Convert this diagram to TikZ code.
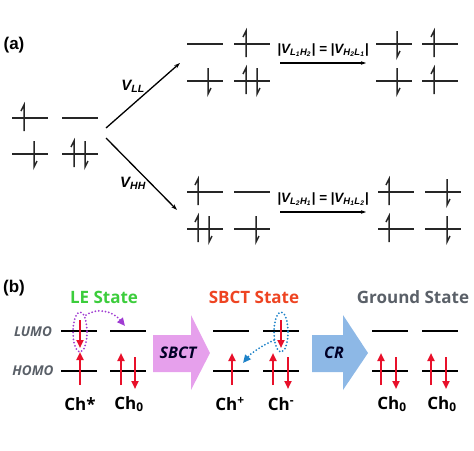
\documentclass[tikz,border=0pt]{standalone}
\usepackage{fontspec}
\setmainfont{Liberation Sans}
\newfontfamily\osans{Open Sans}
\usetikzlibrary{arrows.meta}

\definecolor{leGreen}{RGB}{60,205,60}
\definecolor{ctRed}{RGB}{238,68,34}
\definecolor{gsGray}{RGB}{90,96,104}
\definecolor{spinRed}{RGB}{232,16,42}
\definecolor{sbctPink}{RGB}{230,160,236}
\definecolor{crBlue}{RGB}{141,184,230}
\definecolor{dotPurple}{RGB}{160,60,210}
\definecolor{dotBlue}{RGB}{30,130,200}

\tikzset{
  lvl/.pic={\draw[line width=1.6pt,black!85] (-18,0) -- (18,0);},
  su/.pic={\draw[line width=1.5pt,black!85] (0,13) -- (0,-13) -- (-3,-7);},
  sd/.pic={\draw[line width=1.5pt,black!85] (0,-13) -- (0,13) -- (3,7);},
  blvl/.style={line width=2pt},
  rsp/.style={draw=spinRed,line width=2pt,-{Triangle[width=7pt,length=8pt]}},
  dotline/.style={line width=2pt,line cap=round,dash pattern=on 0pt off 3.4pt},
  vlab/.style={font=\bfseries\itshape\fontsize{15}{17}\selectfont},
  state/.style={font=\osans\bfseries\fontsize{17}{20}\selectfont},
  chlab/.style={font=\osans\bfseries\fontsize{17}{20}\selectfont},
  molab/.style={font=\osans\bfseries\itshape\fontsize{13.5}{16}\selectfont,text=gsGray},
}

\begin{document}
\begin{tikzpicture}[x=1pt,y=-1pt]
\useasboundingbox (0,0) rectangle (474,450);

% ---- (a) ----
\node[font=\bfseries\fontsize{17}{20}\selectfont] (labA) at (14,45) {(a)};

% starting configuration
\foreach \cx in {30,80} {
  \pic at (\cx,118) {lvl};
  \pic at (\cx,154) {lvl};
}
\pic at (24,118) {su};
\pic at (34,154) {sd};
\pic at (74,154) {su};
\pic at (85,154) {sd};

% upper branch
\foreach \cx in {205,252,394,440} {
  \pic at (\cx,44) {lvl};
  \pic at (\cx,81) {lvl};
}
\pic at (208,81) {sd};
\pic at (246,44) {su};
\pic at (246,81) {su};
\pic at (257,81) {sd};
\pic at (397,44) {sd};
\pic at (397,81) {sd};
\pic at (434,44) {su};
\pic at (434,81) {su};

% lower branch
\foreach \cx in {205,252,396,443} {
  \pic at (\cx,192) {lvl};
  \pic at (\cx,229) {lvl};
}
\pic at (198,192) {su};
\pic at (198,229) {su};
\pic at (209,229) {sd};
\pic at (256,229) {sd};
\pic at (389,192) {su};
\pic at (389,229) {su};
\pic at (447,192) {sd};
\pic at (447,229) {sd};

% couplings
\coordinate (start1) at (106,128);
\coordinate (start2) at (106,138);
\coordinate (up) at (180,63);
\coordinate (dn) at (177,210);
\draw[line width=1.3pt,-{Stealth[length=6pt,width=4pt]}] (start1) -- (up);
\draw[line width=1.3pt,-{Stealth[length=6pt,width=4pt]}] (start2) -- (dn);
\node[vlab] (vll) at (133,86) {V\textsubscript{LL}};
\node[vlab] (vhh) at (133,183) {V\textsubscript{HH}};

\coordinate (t1) at (280,63);
\coordinate (t2) at (366,63);
\coordinate (b1) at (280,212);
\coordinate (b2) at (366,212);
\draw[line width=1.1pt,-{Stealth[length=5pt,width=3.5pt]}] (t1) -- (t2);
\draw[line width=1.1pt,-{Stealth[length=5pt,width=3.5pt]}] (b1) -- (b2);
\node[vlab,font=\bfseries\itshape\fontsize{13.5}{15}\selectfont] (ctop) at (323,50)
  {|V\textsubscript{L\textsubscript{1}H\textsubscript{2}}| = |V\textsubscript{H\textsubscript{2}L\textsubscript{1}}|};
\node[vlab,font=\bfseries\itshape\fontsize{13.5}{15}\selectfont] (cbot) at (323,199)
  {|V\textsubscript{L\textsubscript{2}H\textsubscript{1}}| = |V\textsubscript{H\textsubscript{1}L\textsubscript{2}}|};

% ---- (b) ----
\node[font=\bfseries\fontsize{17}{20}\selectfont] (labB) at (14,288) {(b)};

\node[state,text=leGreen] (le) at (104,297) {LE State};
\node[state,text=ctRed] (sbct) at (254,297) {SBCT State};
\node[state,text=gsGray] (gs) at (413,297) {Ground State};

\node[molab] (lumo) at (33,332) {LUMO};
\node[molab] (homo) at (33,371) {HOMO};

\foreach \cx in {79,128,231,281,390,440} {
  \draw[blvl] (\cx-18,331) -- (\cx+18,331);
  \draw[blvl] (\cx-18,371) -- (\cx+18,371);
}

% electrons
\draw[rsp] (80,320) -- (80,348);
\draw[rsp] (80,385) -- (80,352);
\draw[rsp] (121,385) -- (121,353);
\draw[rsp] (135,357) -- (135,389);
\draw[rsp] (232,385) -- (232,353);
\draw[rsp] (281,320) -- (281,348);
\draw[rsp] (273,385) -- (273,353);
\draw[rsp] (288,357) -- (288,389);
\draw[rsp] (381,385) -- (381,353);
\draw[rsp] (396,357) -- (396,389);
\draw[rsp] (431,385) -- (431,353);
\draw[rsp] (446,357) -- (446,389);

\node[chlab] (chs) at (80,404) {Ch*};
\node[chlab] (ch0a) at (129,404) {Ch\textsubscript{0}};
\node[chlab] (chp) at (230,404) {Ch\textsuperscript{+}};
\node[chlab] (chm) at (281,404) {Ch\textsuperscript{-}};
\node[chlab] (ch0b) at (392,404) {Ch\textsubscript{0}};
\node[chlab] (ch0c) at (442,404) {Ch\textsubscript{0}};

% transfers
\draw[dotline,dotPurple] (80,332) ellipse [x radius=7,y radius=20];
\coordinate (pe) at (86,315);
\coordinate (pt) at (125,326);
\draw[dotline,dotPurple,-{Triangle[width=7pt,length=8pt]}]
  (pe) .. controls (96,308) and (112,310) .. (pt);
\draw[dotline,dotBlue] (281,332) ellipse [x radius=7,y radius=20];
\coordinate (be) at (274,340);
\coordinate (bt) at (243,363);
\draw[dotline,dotBlue,-{Triangle[width=7pt,length=8pt]}]
  (be) .. controls (262,346) and (252,352) .. (bt);

% block arrows
\fill[sbctPink] (153,335) -- (191,335) -- (191,315) -- (210,353) -- (191,390)
  -- (191,372) -- (153,372) -- cycle;
\node[font=\osans\bfseries\itshape\fontsize{16}{18}\selectfont,text=black!85!blue] (sbctT) at (178,353) {SBCT};
\fill[crBlue] (312,335) -- (343,335) -- (343,315) -- (368,353) -- (343,390)
  -- (343,372) -- (312,372) -- cycle;
\node[font=\osans\bfseries\itshape\fontsize{16}{18}\selectfont,text=black!85!blue] (crT) at (334,353) {CR};

\end{tikzpicture}
\end{document}
